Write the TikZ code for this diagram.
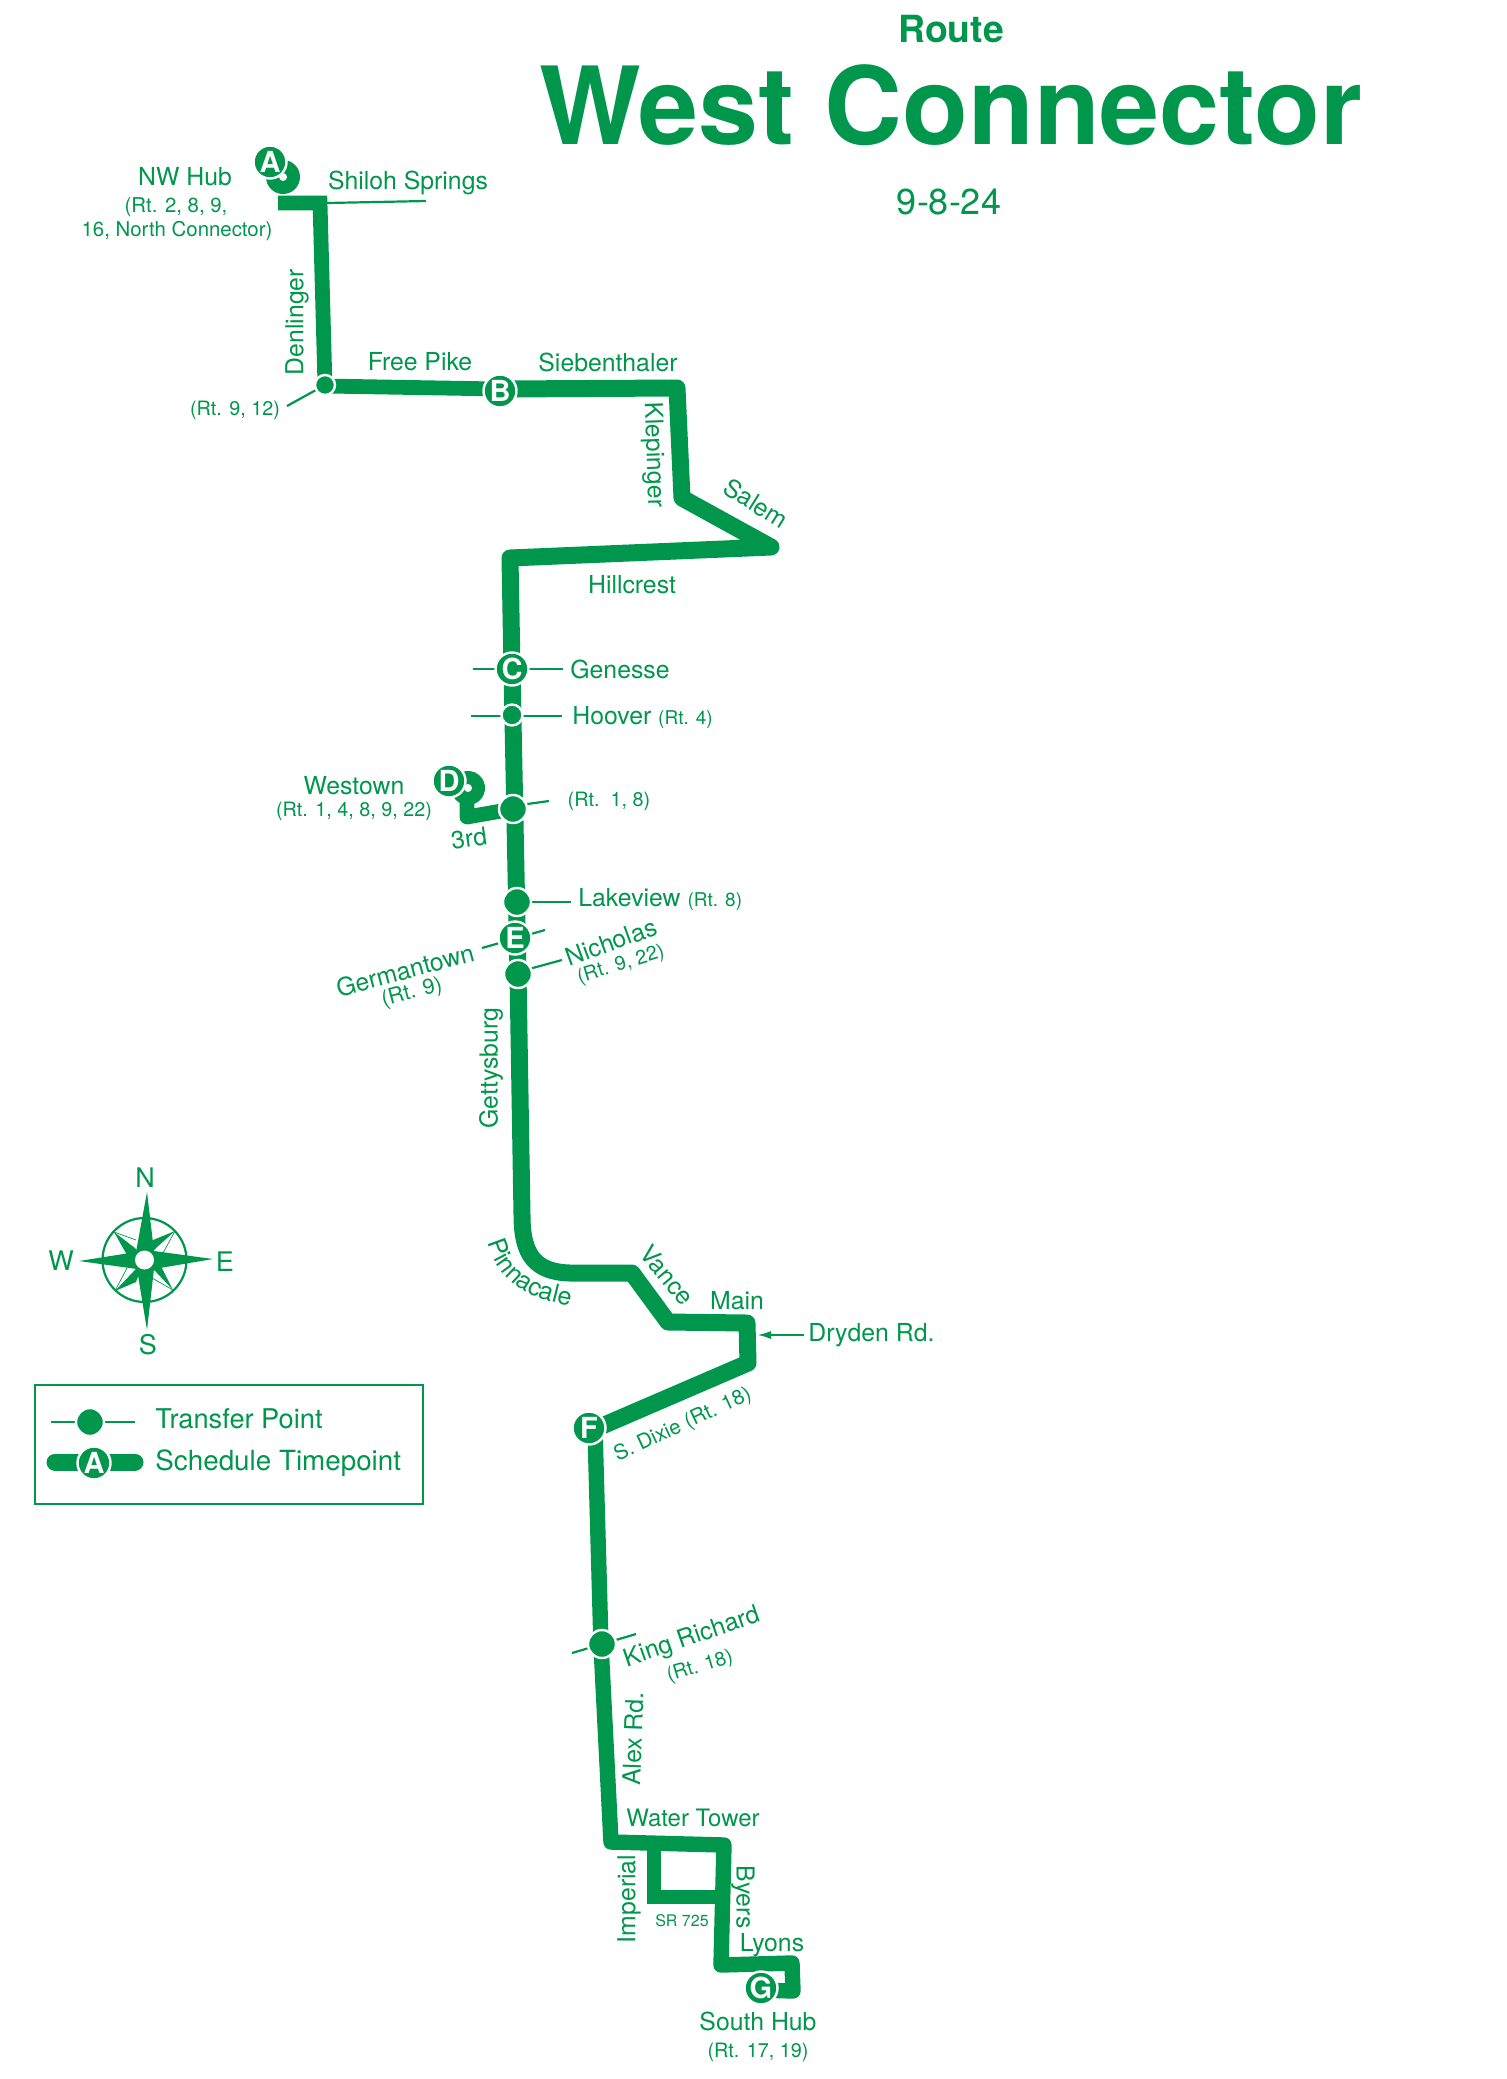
\documentclass[tikz,border=0pt]{standalone}
\usepackage{fontspec}
\setmainfont{TeX Gyre Heros}
\usetikzlibrary{arrows.meta,decorations.text}
\definecolor{rg}{HTML}{00974D}
\newcommand{\bigsz}{\fontsize{12.4pt}{14pt}\selectfont}
\newcommand{\smsz}{\fontsize{9.9pt}{12pt}\selectfont}
\newcommand{\rtsz}{\fontsize{9.5pt}{12pt}\selectfont}
\tikzset{
 x=0.5pt,y=-0.5pt,
 route/.style={draw=rg,line width=7.4pt,line join=round},
 routemid/.style={draw=rg,line width=7.7pt,line join=round},
 routewide/.style={draw=rg,line width=8.5pt,line join=round},
 thin line/.style={draw=rg,line width=1.1pt},
 lab/.style={text=rg,inner sep=0pt,font=\bigsz},
 sml/.style={text=rg,inner sep=0pt,font=\smsz},
 timept/.style={circle,fill=rg,draw=white,line width=1.2pt,minimum size=16.5pt,inner sep=0pt,text=white,font=\fontsize{14.5pt}{14pt}\selectfont\bfseries},
 xfer/.style={circle,fill=rg,draw=white,line width=1.2pt,minimum size=#1,inner sep=0pt},
 xfer/.default=14pt,
 loopdot/.style={circle,fill=white,minimum size=4pt,inner sep=0pt},
 loopring/.style={circle,fill=rg,minimum size=17pt,inner sep=0pt},
}
\begin{document}
\begin{tikzpicture}
\useasboundingbox (0,0) rectangle (1506,2079);
% waypoints
\coordinate (w0) at (278,203);
\coordinate (w1) at (320,203);
\coordinate (w2) at (325,386);
\coordinate (wB) at (500,389);
\coordinate (w3) at (677,388);
\coordinate (w4) at (682,498);
\coordinate (w5) at (771,547);
\coordinate (w6) at (510,558);
\coordinate (wC) at (512,669);
\coordinate (w7) at (518,974);
\coordinate (w8) at (522,1215);
\coordinate (w9) at (570,1273);
\coordinate (w10) at (632,1273);
\coordinate (w11) at (668,1322);
\coordinate (w12) at (747,1323);
\coordinate (w13) at (748,1363);
\coordinate (wF) at (595,1429);
\coordinate (wK) at (601,1645);
\coordinate (w14) at (611,1842);
\coordinate (w15) at (724,1845);
\coordinate (w16) at (721,1965);
\coordinate (w17) at (792,1963);
\coordinate (w18) at (793,1991);
\coordinate (wG) at (761,1990);
\coordinate (w19) at (654,1847);
\coordinate (w20) at (654,1897);
\coordinate (w21) at (722,1897);
\coordinate (w22) at (513,809);
\coordinate (w23) at (467,817);
\coordinate (w24) at (467,795);
% route
\draw[route,line join=miter] (w0) -- (w1) -- (w2);
\draw[route] (w2) -- (wB);
\draw[routewide] (wB) -- (w3) -- (w4) -- (w5) -- (w6) -- (wC) -- (w7) -- (w8) .. controls (522,1255) and (535,1272) .. (w9) -- (w10) -- (w11) -- (w12) -- (w13) -- (wF);
\draw[routemid] (wF) -- (wK) -- (w14) -- (w15) -- (w16) -- (w17) -- (w18) -- (wG);
\draw[route,line join=miter] (w19) -- (w20) -- (w21);
\draw[route] (w22) -- (w23) -- (w24);
% loops
\node[loopring] (ringA) at (283,177) {};
\node[loopdot] (dotA) at (283,177) {};
\node[loopring] (ringD) at (468,788) {};
\node[loopdot] (dotD) at (468,788) {};
% thin leader lines
\coordinate (s1) at (327,203); \coordinate (s2) at (426,201);
\draw[thin line] (s1) -- (s2);
\coordinate (r1) at (287,406); \coordinate (r2) at (325,385);
\draw[thin line] (r1) -- (r2);
\coordinate (g1) at (473,669); \coordinate (g2) at (563,669);
\draw[thin line] (g1) -- (g2);
\coordinate (h1) at (471,716); \coordinate (h2) at (562,716);
\draw[thin line] (h1) -- (h2);
\coordinate (q1) at (513,806); \coordinate (q2) at (549,801);
\draw[thin line] (q1) -- (q2);
\coordinate (l1) at (517,902); \coordinate (l2) at (571,902);
\draw[thin line] (l1) -- (l2);
\coordinate (e1) at (482,948); \coordinate (e2) at (545,930);
\draw[thin line] (e1) -- (e2);
\coordinate (n1) at (518,972); \coordinate (n2) at (562,960);
\draw[thin line] (n1) -- (n2);
\coordinate (k1) at (572,1653); \coordinate (k2) at (636,1634);
\draw[thin line] (k1) -- (k2);
\coordinate (d1) at (804,1335); \coordinate (d2) at (757,1335);
\draw[thin line,-{Latex[length=7pt,width=4pt]}] (d1) -- (d2);
% stops
\node[timept] (A) at (270,162) {A};
\node[xfer=10pt] (t1) at (325,385) {};
\node[timept] (B) at (500,391) {B};
\node[timept] (C) at (512,669) {C};
\node[xfer=10.5pt] (t2) at (512,715) {};
\node[xfer] (t3) at (513,809) {};
\node[timept] (D) at (449,781) {D};
\node[xfer] (t4) at (517,902) {};
\node[timept] (E) at (515,938) {E};
\node[xfer] (t5) at (518,974) {};
\node[timept] (F) at (589,1428) {F};
\node[xfer] (t6) at (602,1644) {};
\node[timept] (G) at (761,1988) {G};
% title
\node[text=rg,inner sep=0pt,font=\fontsize{18.7pt}{20pt}\selectfont\bfseries] (route) at (951,29) {Route};
\node[text=rg,inner sep=0pt,font=\fontsize{53.9pt}{56pt}\selectfont\bfseries] (title) at (951,105) {West Connector};
\node[text=rg,inner sep=0pt,font=\fontsize{18pt}{20pt}\selectfont] (date) at (949,202) {9-8-24};
% labels
\node[lab] (nw) at (185,177) {NW Hub};
\node[sml,font=\fontsize{10.2pt}{12pt}\selectfont] (nw1) at (176,207) {(Rt. 2, 8, 9,};
\node[sml,font=\fontsize{10.2pt}{12pt}\selectfont] (nw2) at (177,231) {16, North Connector)};
\node[lab] (shiloh) at (408,183) {Shiloh Springs};
\node[lab,rotate=90] (denl) at (297,322) {Denlinger};
\node[lab] (free) at (420,362) {Free Pike};
\node[sml] (rt912) at (235,410) {(Rt. 9, 12)};
\node[lab] (sieb) at (608,362) {Siebenthaler};
\node[lab,rotate=-88] (klep) at (653,455) {Klepinger};
\node[lab,rotate=-32] (salem) at (756,503) {Salem};
\node[lab] (hill) at (632,585) {Hillcrest};
\node[lab] (gen) at (620,669) {Genesse};
\node[lab,anchor=west] (hoov) at (572,717) {Hoover {\rtsz(Rt. 4)}};
\node[sml] (rt18) at (609,801) {(Rt.\ \ 1, 8)};
\node[lab] (west) at (354,786) {Westown};
\node[sml] (west2) at (354,811) {(Rt. 1, 4, 8, 9, 22)};
\node[lab,rotate=8] (third) at (469,838) {3rd};
\node[lab,anchor=west] (lake) at (578,899) {Lakeview {\rtsz(Rt. 8)}};
\node[lab,rotate=15] (germ) at (405,970) {Germantown};
\node[sml,font=\fontsize{10.8pt}{12pt}\selectfont,rotate=15] (germ2) at (412,993) {(Rt. 9)};
\node[lab,rotate=20] (nich) at (611,942) {Nicholas};
\node[sml,rotate=17] (nich2) at (621,965) {(Rt. 9, 22)};
\node[lab,rotate=90] (gett) at (491,1068) {Gettysburg};
\path[postaction={decorate},decoration={text along path,text align=center,text={|\fontsize{12.6pt}{14pt}\selectfont\color{rg}|Pinnacale}}] (487,1239) .. controls (497,1283) and (530,1300) .. (574,1306);
\node[lab,rotate=-50] (vance) at (667,1275) {Vance};
\node[lab] (main) at (737,1301) {Main};
\node[lab,anchor=west] (dry) at (808,1335) {Dryden Rd.};
\node[lab,rotate=25,font=\fontsize{10.4pt}{13pt}\selectfont] (dixie) at (683,1425) {S. Dixie (Rt. 18)};
\node[lab,rotate=19] (king) at (692,1638) {King Richard};
\node[sml,rotate=17] (king2) at (700,1667) {(Rt. 18)};
\node[lab,rotate=88] (alex) at (633,1739) {Alex Rd.};
\node[lab,font=\fontsize{12pt}{13pt}\selectfont] (water) at (693,1818) {Water Tower};
\node[lab,rotate=90] (imp) at (629,1899) {Imperial};
\node[text=rg,inner sep=0pt,font=\fontsize{8pt}{9pt}\selectfont] (sr) at (682,1921) {SR 725};
\node[lab,rotate=-90] (byers) at (743,1897) {Byers};
\node[lab] (lyons) at (772,1945) {Lyons};
\node[lab] (south) at (758,2021) {South Hub};
\node[sml] (south2) at (758,2052) {(Rt. 17, 19)};
% compass
\draw[rg,line width=1.1pt] (144.5,1260) circle[radius=42];
\fill[rg] (147,1192) -- (154,1251) -- (213,1259) -- (154,1269) -- (147,1330) -- (137,1269) -- (79,1261) -- (136,1252) -- cycle;
\fill[rg] (114,1232) -- (127,1255) -- (144.5,1260) -- (135,1248) -- cycle;
\fill[rg] (175,1231) -- (153,1240) -- (144.5,1260) -- (156,1248) -- cycle;
\fill[rg] (173,1290) -- (162,1268) -- (144.5,1260) -- (157,1273) -- cycle;
\fill[rg] (115,1291) -- (136,1282) -- (144.5,1260) -- (133,1272) -- cycle;
\draw[rg,line width=0.35pt] (114,1232) -- (136,1240) (175,1231) -- (163,1253) (173,1290) -- (152,1278) (115,1291) -- (127,1268);
\fill[white] (144.5,1260) circle[radius=9.5];
\node[lab,font=\fontsize{13.5pt}{14pt}\selectfont] (cn) at (145,1178) {N};
\node[lab,font=\fontsize{13.5pt}{14pt}\selectfont] (cs) at (148,1345) {S};
\node[lab,font=\fontsize{13.5pt}{14pt}\selectfont] (cw) at (61,1261) {W};
\node[lab,font=\fontsize{13.5pt}{14pt}\selectfont] (ce) at (225,1262) {E};
% legend
\node[draw=rg,line width=1.1pt,minimum width=194pt,minimum height=59.5pt,inner sep=0pt,anchor=north west] (box) at (34,1384) {};
\coordinate (lt1) at (51,1422); \coordinate (lt2) at (135,1422);
\draw[thin line] (lt1) -- (lt2);
\node[xfer=14pt] (lt) at (90,1422) {};
\coordinate (ls1) at (55,1462); \coordinate (ls2) at (135,1462);
\draw[routewide,line cap=round] (ls1) -- (ls2);
\node[timept] (lA) at (94,1463) {A};
\node[lab,anchor=west,font=\fontsize{13.6pt}{15pt}\selectfont] (lx) at (155,1419) {Transfer Point};
\node[lab,anchor=west,font=\fontsize{13.9pt}{15pt}\selectfont] (ly) at (155,1463) {Schedule Timepoint};
\end{tikzpicture}
\end{document}
